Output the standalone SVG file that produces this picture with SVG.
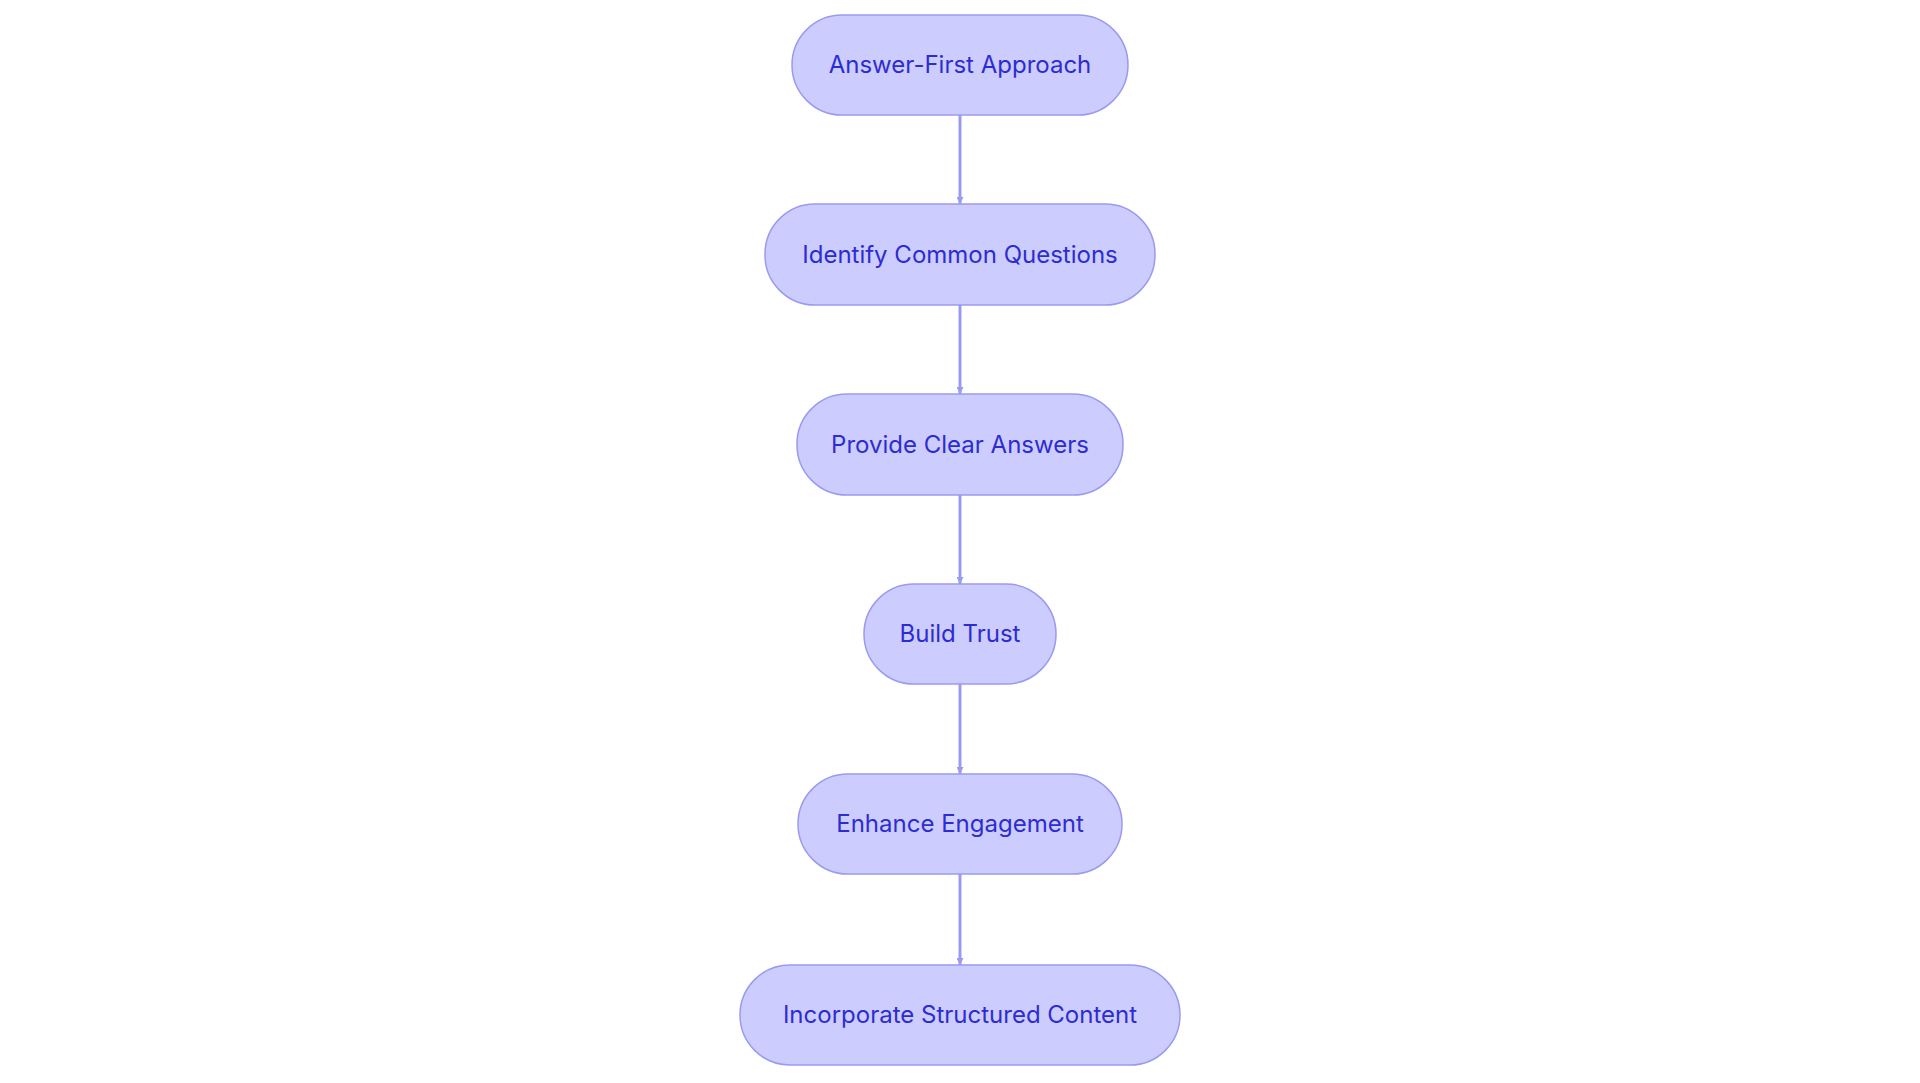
<svg xmlns="http://www.w3.org/2000/svg" width="1920" height="1083" viewBox="0 0 1920 1083">
<style>
.n rect{fill:#ccccff;stroke:#9a9af0;stroke-width:1.5}
.n text{font-family:Inter,"Noto Sans",sans-serif;font-size:24px;fill:#2c2cd0;text-anchor:middle;dominant-baseline:central}
.e line{stroke:#9a9aee;stroke-width:3}
</style>
<defs><marker id="a" viewBox="0 0 10 10" refX="10" refY="5" markerWidth="7" markerHeight="7" markerUnits="userSpaceOnUse" orient="auto"><path d="M0,0L10,5L0,10z" fill="#9a9aee"/></marker></defs>
<rect width="1920" height="1083" fill="#fff"/>
<g class="e">
<line x1="960" y1="115" x2="960" y2="204" marker-end="url(#a)" style="marker-end:url(#a)"/>
<line x1="960" y1="305" x2="960" y2="394" marker-end="url(#a)"/>
<line x1="960" y1="495" x2="960" y2="584" marker-end="url(#a)"/>
<line x1="960" y1="684" x2="960" y2="774" marker-end="url(#a)"/>
<line x1="960" y1="874" x2="960" y2="965" marker-end="url(#a)"/>
</g>
<g id="n1" class="n"><rect x="792" y="15" width="336" height="100" rx="50"/><text x="960" y="64">Answer-First Approach</text></g>
<g id="n2" class="n"><rect x="765" y="204" width="390" height="101" rx="50"/><text x="960" y="254">Identify Common Questions</text></g>
<g id="n3" class="n"><rect x="797" y="394" width="326" height="101" rx="50"/><text x="960" y="444">Provide Clear Answers</text></g>
<g id="n4" class="n"><rect x="864" y="584" width="192" height="100" rx="50"/><text x="960" y="633">Build Trust</text></g>
<g id="n5" class="n"><rect x="798" y="774" width="324" height="100" rx="50"/><text x="960" y="823">Enhance Engagement</text></g>
<g id="n6" class="n"><rect x="740" y="965" width="440" height="100" rx="50"/><text x="960" y="1014">Incorporate Structured Content</text></g>
</svg>
